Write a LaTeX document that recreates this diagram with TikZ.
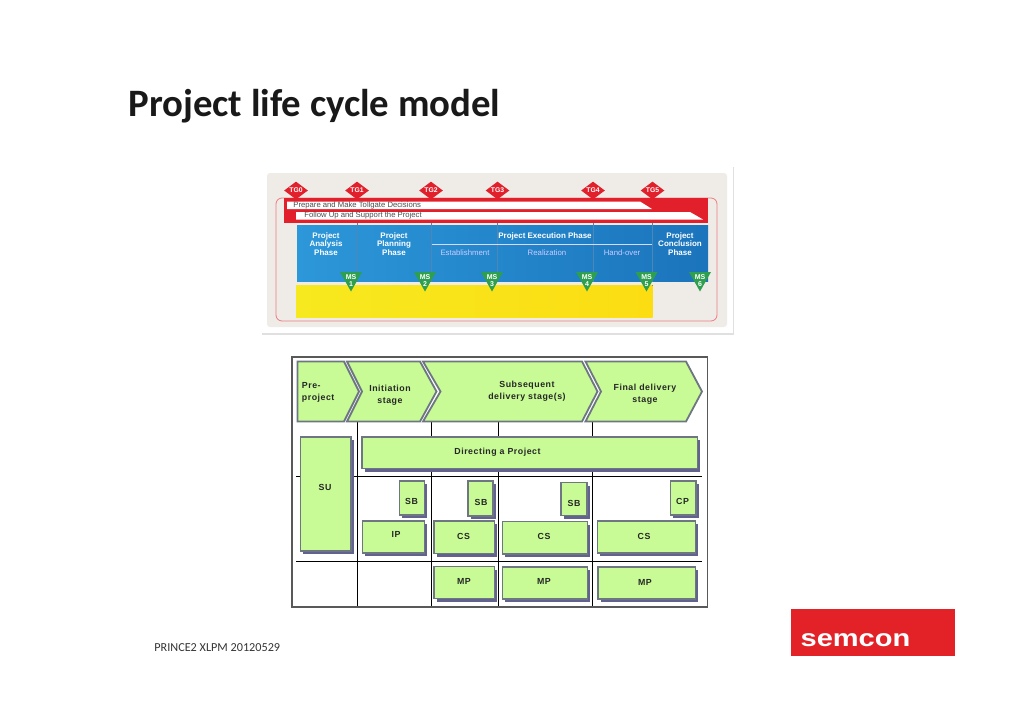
\documentclass[tikz,border=0pt]{standalone}
\usepackage{fontspec}
\usepackage{graphicx}
\newfontfamily\slidefont{Carlito}
\newfontfamily\panelfont{Liberation Sans}
\newfontfamily\stagefont[LetterSpace=6]{Liberation Sans Bold}
\usetikzlibrary{shapes.geometric,shadows}
\definecolor{tgred}{HTML}{E2202C}
\definecolor{cardgrey}{HTML}{EFECE8}
\definecolor{msgreen}{HTML}{2E9E4F}
\definecolor{phaseleft}{HTML}{2C97D9}
\definecolor{phaseright}{HTML}{1B74BC}
\definecolor{phaseline}{HTML}{4F86B8}
\definecolor{yellowleft}{HTML}{F7E91F}
\definecolor{yellowright}{HTML}{FBDD12}
\definecolor{stagegreen}{HTML}{C8FB96}
\definecolor{stageline}{HTML}{6E7682}
\definecolor{stageshadow}{HTML}{62628F}
\definecolor{semconred}{HTML}{E32228}
\tikzset{
	gate/.style={diamond, fill=tgred, inner sep=0pt, minimum width=12pt, minimum height=8.5pt, text=white, font=\panelfont\bfseries\fontsize{3.4}{4}\selectfont},
	mile/.style={fill=msgreen},
	miletext/.style={text=white, inner sep=0pt, align=center, font=\panelfont\bfseries\fontsize{3.5}{3.9}\selectfont},
	phase/.style={text=white, inner sep=0pt, align=center, font=\panelfont\bfseries\fontsize{4}{4.25}\selectfont},
	subphase/.style={text=white!80!blue, inner sep=0pt, font=\panelfont\fontsize{3.9}{4.25}\selectfont},
	strip/.style={text=black!70, inner sep=0pt, font=\panelfont\fontsize{3.85}{4}\selectfont},
	chevron/.style={draw=stageline, fill=stagegreen, line width=0.9pt, line join=miter},
	stagebox/.style={draw=stageline, fill=stagegreen, line width=0.75pt, drop shadow={shadow xshift=1.25pt, shadow yshift=-1.5pt, fill=stageshadow, opacity=1}},
	stagetext/.style={text=black!85, inner sep=0pt, align=center, font=\stagefont\fontsize{4.4}{6}\selectfont},
	gridline/.style={line width=0.65pt, black}
}
\begin{document}
\begin{tikzpicture}[x=0.5pt,y=-0.5pt]
	\useasboundingbox (0,0) rectangle (1030,728);
	%Titolo
	\node [anchor=west, inner sep=0pt, font=\slidefont\bfseries\fontsize{19.4}{22}\selectfont, text=black!90] (title) at (128,106.5) {Project life cycle model};
	\node [anchor=west, inner sep=0pt, font=\slidefont\fontsize{6.1}{8}\selectfont, text=black!80] (footer) at (154,648) {PRINCE2 XLPM 20120529};
	%Logo
	\fill [semconred] (791,609) rectangle (955,656);
	\node [inner sep=0pt, text=white, font=\panelfont\bfseries\fontsize{12}{12}\selectfont] (logo) at (855.5,640) {\scalebox{1.21}[1]{semcon}};
	%Scheda
	\fill [black!12] (262,167) rectangle (734,335);
	\fill [white] (262,165) rectangle (733,333);
	\fill [cardgrey, rounded corners=1.5pt] (267,173) rectangle (727,327);
	\draw [tgred!60, line width=0.4pt, rounded corners=3pt] (276,198) rectangle (717,321);
	%Barre rosse
	\fill [tgred] (284,198) rectangle (708,222.5);
	\fill [white] (287,201.5) -- (640,201.5) -- (652,209) -- (287,209) -- cycle;
	\fill [white] (296,212) -- (690,212) -- (703,219.5) -- (296,219.5) -- cycle;
	\node [strip, anchor=west] (prepare) at (293,205.5) {Prepare and Make Tollgate Decisions};
	\node [strip, anchor=west] (follow) at (304,215.5) {Follow Up and Support the Project};
	%Fasi
	\fill [left color=phaseleft, right color=phaseright] (297,225.5) rectangle (708,281.5);
	\fill [left color=yellowleft, right color=yellowright] (296,285) rectangle (652.5,317);
	\draw [phaseline, line width=0.3pt] (357.5,222.5) -- (357.5,281.5);
	\draw [phaseline, line width=0.3pt] (431.5,222.5) -- (431.5,281.5);
	\draw [phaseline, line width=0.3pt] (497.5,222.5) -- (497.5,281.5);
	\draw [phaseline, line width=0.3pt] (593,222.5) -- (593,281.5);
	\draw [phaseline, line width=0.3pt] (652,222.5) -- (652,281.5);
	\draw [white!85!blue, line width=0.5pt] (431.5,244) -- (652,244);
	\node [phase] (analysis) at (326,244) {Project\\Analysis\\Phase};
	\node [phase] (planning) at (394,244) {Project\\Planning\\Phase};
	\node [phase] (execution) at (545,236) {Project Execution Phase};
	\node [phase] (conclusion) at (680,244) {Project\\Conclusion\\Phase};
	\node [subphase] (establishment) at (465,253) {Establishment};
	\node [subphase] (realization) at (547,253) {Realization};
	\node [subphase] (handover) at (622,253) {Hand-over};
	%Tollgate
	\node [gate] (tg0) at (296,190.5) {TG0};
	\node [gate] (tg1) at (357,190.5) {TG1};
	\node [gate] (tg2) at (431,190.5) {TG2};
	\node [gate] (tg3) at (497.5,190.5) {TG3};
	\node [gate] (tg4) at (593,190.5) {TG4};
	\node [gate] (tg5) at (652.5,190.5) {TG5};
	%Milestone
	\fill [mile] (340,272) -- (362,272) -- (351,291.5) -- cycle;
	\fill [mile] (414,272) -- (436,272) -- (425,291.5) -- cycle;
	\fill [mile] (481,272) -- (503,272) -- (492,291.5) -- cycle;
	\fill [mile] (576,272) -- (598,272) -- (587,291.5) -- cycle;
	\fill [mile] (635.5,272) -- (657.5,272) -- (646.5,291.5) -- cycle;
	\fill [mile] (689,272) -- (711,272) -- (700,291.5) -- cycle;
	\node [miletext] (ms1) at (351,280.5) {MS\\1};
	\node [miletext] (ms2) at (425,280.5) {MS\\2};
	\node [miletext] (ms3) at (492,280.5) {MS\\3};
	\node [miletext] (ms4) at (587,280.5) {MS\\4};
	\node [miletext] (ms5) at (646.5,280.5) {MS\\5};
	\node [miletext] (ms6) at (700,280.5) {MS\\6};
	%Griglia
	\fill [white] (292,357) rectangle (707.5,607);
	\draw [gridline] (357.5,421.5) -- (357.5,607);
	\draw [gridline] (431.5,421.5) -- (431.5,607);
	\draw [gridline] (498.5,421.5) -- (498.5,607);
	\draw [gridline] (592.5,421.5) -- (592.5,607);
	\draw [gridline] (296,476.5) -- (702,476.5);
	\draw [gridline] (296,561.5) -- (702,561.5);
	\draw [black!65, line width=0.8pt] (292,357) rectangle (707.5,607);
	%Stadi
	\draw [chevron] (297.5,361.5) -- (344,361.5) -- (359,391.5) -- (344,421.5) -- (297.5,421.5) -- cycle;
	\draw [chevron] (347,361.5) -- (420,361.5) -- (436.5,391.5) -- (420,421.5) -- (347,421.5) -- (362,391.5) -- cycle;
	\draw [chevron] (423,361.5) -- (582,361.5) -- (597.5,391.5) -- (582,421.5) -- (423,421.5) -- (440.5,391.5) -- cycle;
	\draw [chevron] (585.5,361.5) -- (686,361.5) -- (702,391.5) -- (686,421.5) -- (585.5,421.5) -- (601,391.5) -- cycle;
	\node [stagetext, align=left, anchor=west] (preproject) at (301.5,392.5) {Pre-\\project};
	\node [stagetext] (initiation) at (390,395) {Initiation\\stage};
	\node [stagetext] (subsequent) at (527,391.5) {Subsequent\\delivery stage(s)};
	\node [stagetext] (finaldelivery) at (645,394.5) {Final delivery\\stage};
	%Processi
	\draw [stagebox] (300.5,437) rectangle (351,551);
	\draw [stagebox] (362,437) rectangle (697.5,468.5);
	\draw [stagebox] (399.5,481) rectangle (424.5,515);
	\draw [stagebox] (468,481) rectangle (493,516);
	\draw [stagebox] (561,482.5) rectangle (587,515.5);
	\draw [stagebox] (670.5,481) rectangle (696,515);
	\draw [stagebox] (362.5,521) rectangle (424.5,553);
	\draw [stagebox] (434,521) rectangle (494.5,553.5);
	\draw [stagebox] (502.5,521.5) rectangle (587.5,554);
	\draw [stagebox] (597.5,521) rectangle (695.5,553);
	\draw [stagebox] (434,566.5) rectangle (494.5,598.5);
	\draw [stagebox] (502.5,567) rectangle (587.5,599);
	\draw [stagebox] (598,567) rectangle (695.5,599);
	\node [stagetext] (su) at (325,487) {SU};
	\node [stagetext] (dp) at (497.5,452.5) {Directing a Project};
	\node [stagetext] (sb1) at (411.5,501) {SB};
	\node [stagetext] (sb2) at (481,502) {SB};
	\node [stagetext] (sb3) at (574,503) {SB};
	\node [stagetext] (cp) at (682.5,501.5) {CP};
	\node [stagetext] (ip) at (396,534) {IP};
	\node [stagetext] (cs1) at (463.5,536) {CS};
	\node [stagetext] (cs2) at (544,536) {CS};
	\node [stagetext] (cs3) at (644,536) {CS};
	\node [stagetext] (mp1) at (464,581) {MP};
	\node [stagetext] (mp2) at (544,581) {MP};
	\node [stagetext] (mp3) at (645,582) {MP};
\end{tikzpicture}
\end{document}
